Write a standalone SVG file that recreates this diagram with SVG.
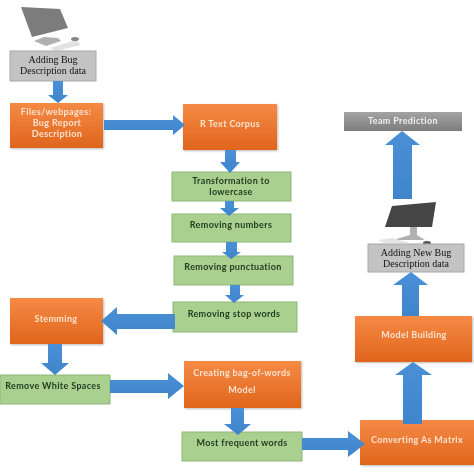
<svg xmlns="http://www.w3.org/2000/svg" width="474" height="474" viewBox="0 0 474 474">
<style>
text{font-family:Lato,"Liberation Sans",sans-serif;font-size:9px;text-anchor:middle;letter-spacing:.35px}
.o rect{fill:url(#og);filter:drop-shadow(1px 1px 1px #0004)}
.o text{fill:#fbe3d0;font-weight:700}
.g rect{fill:#a9d08e;stroke:#8fb67a;stroke-width:1}
.g text{fill:#1f3a1f;font-weight:700}
.s rect{fill:#c3c3c3;stroke:#a8a8a8;stroke-width:1}
.s text{fill:#111;font-family:"Liberation Serif",serif;font-size:10px;letter-spacing:0}
#connectors path{fill:url(#bg)}
</style>
<defs>
<linearGradient id="og" x1="0" y1="0" x2="0" y2="1"><stop offset="0" stop-color="#f58a45"/><stop offset="1" stop-color="#e0651c"/></linearGradient>
<linearGradient id="gg" x1="0" y1="0" x2="0" y2="1"><stop offset="0" stop-color="#a3a3a3"/><stop offset="1" stop-color="#7d7d7d"/></linearGradient>
<linearGradient id="bg" x1="0" y1="0" x2="0" y2="1"><stop offset="0" stop-color="#4a90d6"/><stop offset="1" stop-color="#3f85cc"/></linearGradient>
<filter id="b" x="-5%" y="-5%" width="110%" height="110%"><feGaussianBlur stdDeviation="0.45"/></filter>
</defs>
<rect width="474" height="474" fill="#fff"/>
<g filter="url(#b)">
<g id="monitor1">
<path d="M21 7L60 9L68 28L32 37Z" fill="#7c7c7c"/>
<path d="M34 41L44 37L58 38L61 41L46 46Z" fill="#b0b0b0"/>
<path d="M50 48L76 40L81 45L56 51Z" fill="#e2e2e2"/>
<ellipse cx="75" cy="39" rx="4" ry="2" fill="#888"/>
</g>
<g id="monitor2">
<path d="M392 206L436 202L432 227L385 227Z" fill="#444"/>
<path d="M410 227H417V235L425 240H393L410 235Z" fill="#b0b0b0"/>
<path d="M378 240L392 238L410 243H384Z" fill="#e4e4e4"/>
<ellipse cx="427" cy="243" rx="4" ry="2" fill="#555"/>
</g>
<g id="n-adding" class="s"><rect x="10" y="51" width="86" height="30"/><text x="53" y="63">Adding Bug</text><text x="53" y="74">Description data</text></g>
<g id="n-files" class="o"><rect x="10" y="103" width="93" height="45"/><text x="56" y="115">Files/webpages:</text><text x="57" y="126">Bug Report</text><text x="57" y="137">Description</text></g>
<g id="n-corpus" class="o"><rect x="183" y="104" width="94" height="46"/><text x="230" y="127">R Text Corpus</text></g>
<g id="n-lower" class="g"><rect x="172" y="172" width="119" height="29"/><text x="231" y="184">Transformation to</text><text x="231" y="195">lowercase</text></g>
<g id="n-numbers" class="g"><rect x="172" y="214" width="119" height="28"/><text x="231" y="228">Removing numbers</text></g>
<g id="n-punct" class="g"><rect x="174" y="256" width="119" height="29"/><text x="233" y="270">Removing punctuation</text></g>
<g id="n-stop" class="g"><rect x="173" y="302" width="124" height="30"/><text x="234" y="317">Removing stop words</text></g>
<g id="n-stem" class="o"><rect x="10" y="298" width="93" height="46"/><text x="56" y="322">Stemming</text></g>
<g id="n-white" class="g"><rect x="0" y="375" width="110" height="29"/><text x="53" y="389">Remove White Spaces</text></g>
<g id="n-bag" class="o"><rect x="184" y="361" width="117" height="47"/><text x="242" y="376">Creating bag-of-words</text><text x="242" y="393">Model</text></g>
<g id="n-freq" class="g"><rect x="182" y="432" width="120" height="29"/><text x="242" y="446">Most frequent words</text></g>
<g id="n-matrix" class="o"><rect x="360" y="420" width="114" height="45"/><text x="417" y="443">Converting As Matrix</text></g>
<g id="n-model" class="o"><rect x="355" y="316" width="117" height="46"/><text x="414" y="338">Model Building</text></g>
<g id="n-new" class="s"><rect x="368" y="244" width="96" height="28"/><text x="416" y="256">Adding New Bug</text><text x="416" y="267">Description data</text></g>
<g id="n-team"><rect x="344" y="112" width="118" height="19" fill="url(#gg)"/><text x="403" y="124" fill="#eee" font-weight="700">Team Prediction</text></g>
<g id="connectors">
<path d="M53 81H63V95H68L58 103L48 95H53Z"/>
<path d="M104 120H173V115L185 125L173 135V130H104Z"/>
<path d="M225 150H236V162H240L230 173L220 162H225Z"/>
<path d="M225 201H234V208H239L229 216L220 208H225Z"/>
<path d="M226 242H237V252H241L231 259L222 252H226Z"/>
<path d="M230 285H240V295H244L234 303L225 295H230Z"/>
<path d="M175 314H117V307L101 321L117 335V329H175Z"/>
<path d="M48 344H62V363H69L55 375L41 363H48Z"/>
<path d="M110 380H168V373L184 386L168 399V393H110Z"/>
<path d="M231 408H244V424H251L238 435L224 424H231Z"/>
<path d="M302 438H348V431L365 444L348 457V450H302Z"/>
<path d="M403 424H422V375H432L413 362L395 375H403Z"/>
<path d="M402 316H419V285H428L411 272L393 285H402Z"/>
<path d="M393 199H412V145H420L402 131L385 145H393Z"/>
</g>
</g>
</svg>
